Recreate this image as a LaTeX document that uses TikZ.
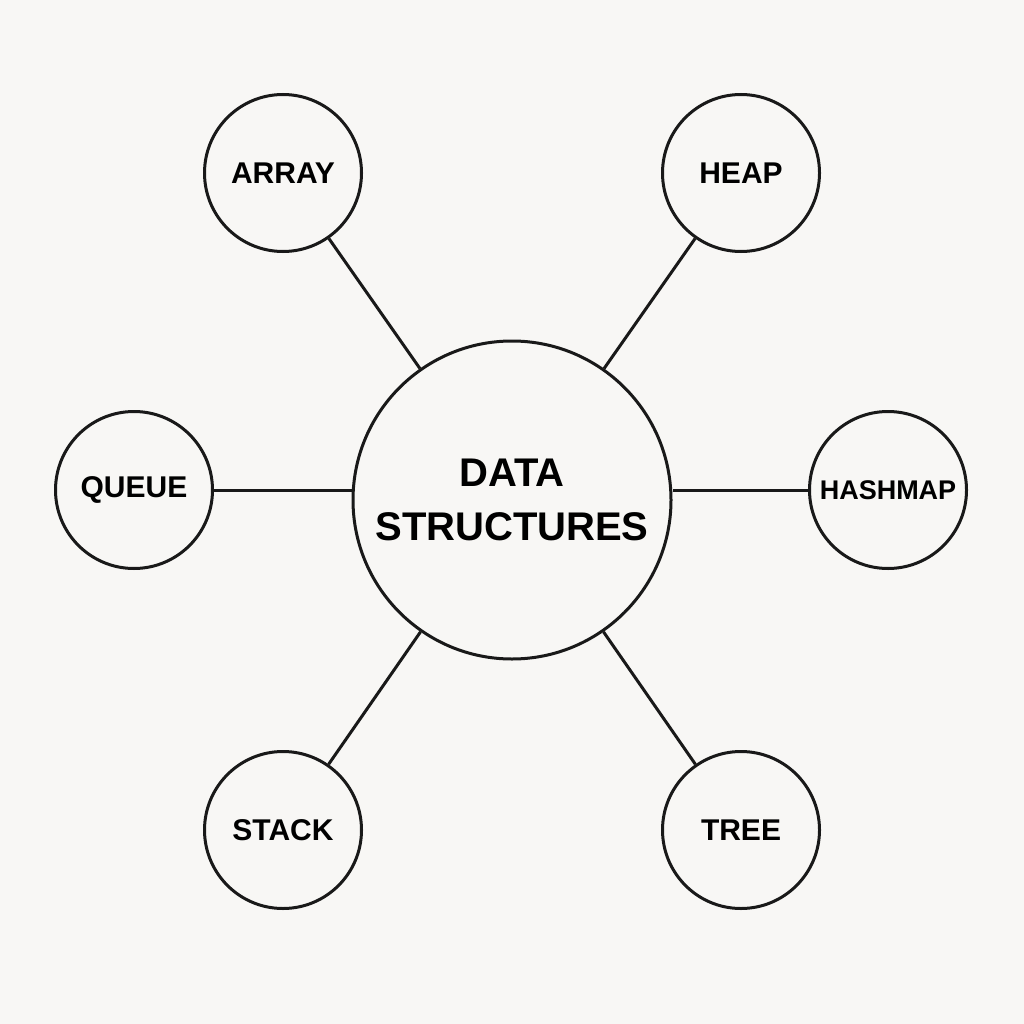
\documentclass[tikz,border=0pt]{standalone}
\usepackage{fontspec}
\setmainfont{Liberation Sans}
\begin{document}
\begin{tikzpicture}[x=1pt,y=-1pt,
  leaf/.style={circle,draw=black!90,line width=3pt,minimum size=157pt,inner sep=0pt,font=\bfseries\fontsize{30}{34}\selectfont},
  hub/.style={circle,draw=black!90,line width=3pt,minimum size=318pt,inner sep=0pt,align=center,font=\bfseries\fontsize{40}{54}\selectfont},
  link/.style={draw=black!90,line width=3pt}]
\fill[fill={rgb,255:red,248;green,247;blue,245}] (0,0) rectangle (1024,1024);
\useasboundingbox (0,0) rectangle (1024,1024);
\node[hub] (c) at (512,500) {DATA\\STRUCTURES};
\node[leaf] (array) at (283,173) {ARRAY};
\node[leaf] (heap) at (741,173) {HEAP};
\node[leaf] (queue) at (134,490) {QUEUE};
\node[leaf,font=\bfseries\fontsize{27}{30}\selectfont] (hash) at (888,490) {HASHMAP};
\node[leaf] (stack) at (283,830) {STACK};
\node[leaf] (tree) at (741,830) {TREE};
\foreach \n in {array,heap,stack,tree} \draw[link] (c) -- (\n);
\draw[link] (queue.east) -- (queue.east -| c.west);
\draw[link] (hash.west) -- (hash.west -| c.east);
\end{tikzpicture}
\end{document}
